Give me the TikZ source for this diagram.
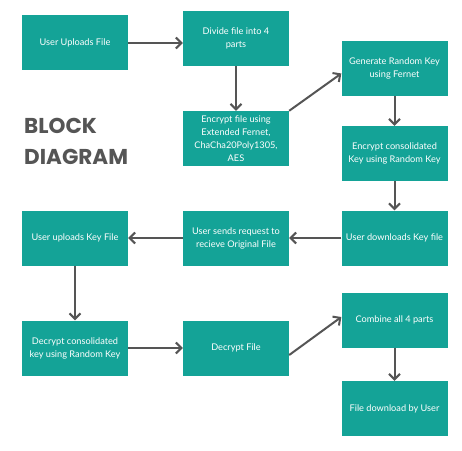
\documentclass[tikz,border=0pt]{standalone}
\usepackage{fontspec}
\setmainfont{Lato}
\newfontfamily\titlefont{Poppins}
\usetikzlibrary{arrows.meta}
\definecolor{teal1}{HTML}{14A397}
\definecolor{arrowgray}{HTML}{555555}
\begin{document}
\begin{tikzpicture}[x=1pt,y=-1pt,
  blk/.style={fill=teal1,draw=none,minimum width=106pt,minimum height=55pt,inner sep=1pt,
    text=white,align=center,font=\fontsize{9.2}{13}\selectfont},
  conn/.style={draw=arrowgray,line width=2pt,-{Straight Barb[length=5.5pt,width=11pt,line width=2pt]}}]
\useasboundingbox (0,0) rectangle (462,450);
\fill[white] (0,0) rectangle (462,450);
\node[blk] (A) at (75,42.5) {User Uploads File};
\node[blk] (B) at (236,38.5) {Divide file into 4\\parts};
\node[blk] (C) at (236,138.5) {Encrypt file using\\Extended Fernet,\\ChaCha20Poly1305,\\AES};
\node[blk] (D) at (394.5,68.5) {Generate Random Key\\using Fernet};
\node[blk] (E) at (394.5,153.5) {Encrypt consolidated\\Key using Random Key};
\node[blk] (F) at (394.5,238) {User downloads Key file};
\node[blk] (G) at (236,238) {User sends request to\\recieve Original File};
\node[blk] (H) at (75,238) {User uploads Key File};
\node[blk] (I) at (75,348) {Decrypt consolidated\\key using Random Key};
\node[blk] (J) at (236,348) {Decrypt File};
\node[blk] (K) at (394.5,320) {Combine all 4 parts};
\node[blk] (L) at (394.5,408.5) {File download by User};
\node[anchor=base west,text=arrowgray,font=\titlefont\bfseries\fontsize{21.5}{31}\selectfont,inner sep=0] (T1) at (24,133) {BLOCK};
\node[anchor=base west,text=arrowgray,font=\titlefont\bfseries\fontsize{21.5}{31}\selectfont,inner sep=0] (T2) at (24,164) {DIAGRAM};
\draw[conn] ([yshift=-0.5pt]A.east) -- ([yshift=-4.5pt]B.west);
\draw[conn] (B.south) -- (C.north);
\draw[conn] (C.north east) -- ([yshift=-5pt]D.west);
\draw[conn] (D.south) -- (E.north);
\draw[conn] (E.south) -- (F.north);
\draw[conn] (F.west) -- (G.east);
\draw[conn] (G.west) -- (H.east);
\draw[conn] (H.south) -- (I.north);
\draw[conn] (I.east) -- (J.west);
\draw[conn] ([yshift=-7pt]J.east) -- ([yshift=3pt]K.west);
\draw[conn] (K.south) -- (L.north);
\end{tikzpicture}
\end{document}
